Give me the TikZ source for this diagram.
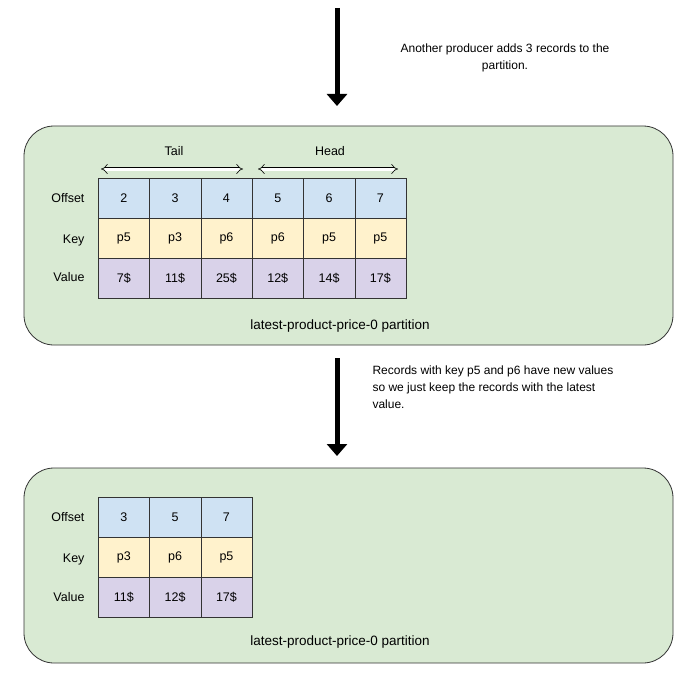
\documentclass[tikz,border=0pt]{standalone}
\usepackage{fontspec}
\setmainfont{Liberation Sans}
\usetikzlibrary{arrows.meta}
\definecolor{cblue}{HTML}{CFE2F3}
\definecolor{cyel}{HTML}{FFF2CC}
\definecolor{cpur}{HTML}{D9D2E9}
\definecolor{cgreen}{HTML}{D9EAD3}
\begin{document}
\begin{tikzpicture}[x=1pt,y=-1pt,font=\fontsize{12.5}{15}\selectfont,
  part/.style={draw=black!80,fill=cgreen,rounded corners=30pt,line width=0.8pt},
  cell/.style={draw=black!80,minimum width=51.3pt,minimum height=40pt,inner sep=0pt,anchor=north west},
  rowlab/.style={anchor=east},
  bigarrow/.style={line width=5pt,-{Triangle[length=12pt,width=20pt]}},
  span/.style={double,double distance=3pt,line width=0.6pt,{Implies}-{Implies}}]
\useasboundingbox (0,0) rectangle (696,674);
\draw[part] (24,126) rectangle (673,345);
\draw[part] (24,468) rectangle (673,663);
\coordinate (a1s) at (337,8); \coordinate (a1e) at (337,106);
\draw[bigarrow] (a1s) -- (a1e);
\coordinate (a2s) at (337,358); \coordinate (a2e) at (337,456);
\draw[bigarrow] (a2s) -- (a2e);
\node[align=center,font=\fontsize{12}{17}\selectfont] (t1) at (505,58) {Another producer adds 3 records to the\\partition.};
\node[align=left,anchor=north west,font=\fontsize{12}{17}\selectfont] (t2) at (369,362) {Records with key p5 and p6 have new values\\so we just keep the records with the latest\\value.};
% top table
\foreach \o/\k/\v [count=\i from 0] in {2/p5/7\$,3/p3/11\$,4/p6/25\$,5/p6/12\$,6/p5/14\$,7/p5/17\$}{
  \node[cell,fill=cblue] (o\i) at (98+51.3*\i,178) {\o};
  \node[cell,fill=cyel] (k\i) at (98+51.3*\i,218) {\k};
  \node[cell,fill=cpur] (v\i) at (98+51.3*\i,258) {\v};
}
\node[rowlab] (lo) at (88,198) {Offset};
\node[rowlab] (lk) at (88,240) {Key};
\node[rowlab] (lv) at (88,277) {Value};
\coordinate (ts) at (101,169); \coordinate (te) at (243,169);
\coordinate (hs) at (258,169); \coordinate (he) at (398,169);
\draw[span] (ts) -- (te);
\draw[span] (hs) -- (he);
\node (tail) at (174,151) {Tail};
\node (head) at (330,151) {Head};
\node[font=\fontsize{13.5}{16}\selectfont] (p1) at (340,326) {latest-product-price-0 partition};
% bottom table
\foreach \o/\k/\v [count=\i from 0] in {3/p3/11\$,5/p6/12\$,7/p5/17\$}{
  \node[cell,fill=cblue] (bo\i) at (98+51.3*\i,497) {\o};
  \node[cell,fill=cyel] (bk\i) at (98+51.3*\i,537) {\k};
  \node[cell,fill=cpur] (bv\i) at (98+51.3*\i,577) {\v};
}
\node[rowlab] (blo) at (88,517) {Offset};
\node[rowlab] (blk) at (88,559) {Key};
\node[rowlab] (blv) at (88,597) {Value};
\node[font=\fontsize{13.5}{16}\selectfont] (p2) at (340,642) {latest-product-price-0 partition};
\end{tikzpicture}
\end{document}
